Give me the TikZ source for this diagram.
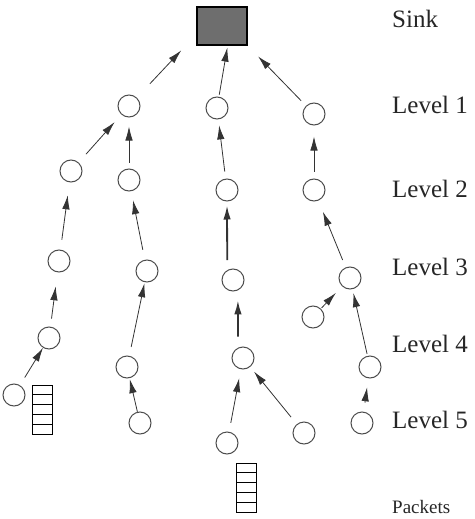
\documentclass[tikz,border=0pt]{standalone}
\usepackage{fontspec}
\setmainfont{Liberation Serif}
\usetikzlibrary{arrows.meta}

\begin{document}
\begin{tikzpicture}[
  x=1pt, y=-1pt,
  sensor/.style={circle, draw=black!70, line width=1pt, minimum size=22pt, inner sep=0pt},
  sinkbox/.style={rectangle, draw=black, line width=1.3pt, fill=black!57, minimum width=50pt, minimum height=38pt, inner sep=0pt},
  cell/.style={rectangle, draw=black, line width=0.9pt, minimum width=20pt, minimum height=9.8pt, inner sep=0pt},
  level/.style={font=\fontsize{25}{30}\selectfont\color{black!85}, anchor=base west, inner sep=0pt},
  link/.style={-{Latex[length=14pt,width=7.5pt]}, line width=0.8pt, draw=black!80},
  thicklink/.style={link, line width=1.8pt}
]
  \useasboundingbox (0,0) rectangle (474,519);

  \node (sink) [sinkbox] at (222,26) {};

  % level 1 .. 5 sensors
  \node (l1a) [sensor] at (129,106) {};
  \node (l1b) [sensor] at (217,108) {};
  \node (l1c) [sensor] at (314,114) {};

  \node (l2a) [sensor] at (71,171) {};
  \node (l2b) [sensor] at (129,180) {};
  \node (l2c) [sensor] at (227,190) {};
  \node (l2d) [sensor] at (314,190) {};

  \node (l3a) [sensor] at (59,261) {};
  \node (l3b) [sensor] at (147,271) {};
  \node (l3c) [sensor] at (233,280) {};
  \node (l3d) [sensor] at (350,278) {};
  \node (l3x) [sensor] at (313,317) {};

  \node (l4a) [sensor] at (49,338) {};
  \node (l4b) [sensor] at (127,367) {};
  \node (l4c) [sensor] at (243,358) {};
  \node (l4d) [sensor] at (370,367) {};

  \node (l5a) [sensor] at (14,395) {};
  \node (l5b) [sensor] at (140,423) {};
  \node (l5c) [sensor] at (227,443) {};
  \node (l5d) [sensor] at (304,433) {};
  \node (l5e) [sensor] at (362,423) {};

  % packet queues
  \foreach \i in {0,...,4} {
    \node (qa\i) [cell] at (42,{389.9+\i*9.8}) {};
    \node (qb\i) [cell] at (246.5,{467.9+\i*9.8}) {};
  }

  % labels
  \node (lsink) [level] at (392,28) {Sink};
  \foreach \n/\y in {1/113,2/197,3/275,4/352,5/428}
    \node (lv\n) [level] at (392,\y) {Level \n};
  \node (lpk) [level, font=\fontsize{19}{22}\selectfont\color{black!85}] at (392,513) {Packets};

  % links towards the sink
  \draw[link, shorten <=19pt, shorten >=22pt] (l1a) -- (sink.198);
  \draw[link, shorten <=2pt, shorten >=2pt] (l1b) -- (sink.286);
  \draw[link, shorten <=7pt, shorten >=15pt] (l1c) -- (sink.south east);

  \draw[link, shorten <=11pt, shorten >=10pt] (l2a) -- (l1a);
  \draw[link, shorten <=6pt, shorten >=9pt] (l2b) -- (l1a);
  \draw[link, shorten <=7pt, shorten >=6pt] (l2c) -- (l1b);
  \draw[link, shorten <=7pt, shorten >=11pt] (l2d) -- (l1c);

  \draw[link, shorten <=10pt, shorten >=13pt] (l3a) -- (l2a);
  \draw[link, shorten <=10pt, shorten >=9pt] (l3b) -- (l2b);
  \draw[thicklink, shorten <=10pt, shorten >=4pt] (l3c.120) -- (l2c.south);
  \draw[link, shorten <=8pt, shorten >=12pt] (l3d) -- (l2d);

  \draw[link, shorten <=8pt, shorten >=14pt] (l4a) -- (l3a);
  \draw[link, shorten <=9pt, shorten >=1pt] (l4b) -- (l3b);
  \draw[thicklink, shorten <=11pt, shorten >=10pt] (l4c.115) -- (l3c.-65);
  \draw[link, shorten <=1pt, shorten >=9pt] (l3x) -- (l3d);
  \draw[link, shorten <=2pt, shorten >=4pt] (l4d) -- (l3d);

  \draw[link, shorten <=9pt, shorten >=0pt] (l5a) -- (l4a);
  \draw[link, shorten <=0pt, shorten >=1pt] (l5b) -- (l4b);
  \draw[link, shorten <=9pt, shorten >=9pt] (l5c) -- (l4c);
  \draw[link, shorten <=9pt, shorten >=6pt] (l5d) -- (l4c);
  \draw[link, shorten <=9pt, shorten >=9pt] (l5e) -- (l4d);
\end{tikzpicture}
\end{document}
